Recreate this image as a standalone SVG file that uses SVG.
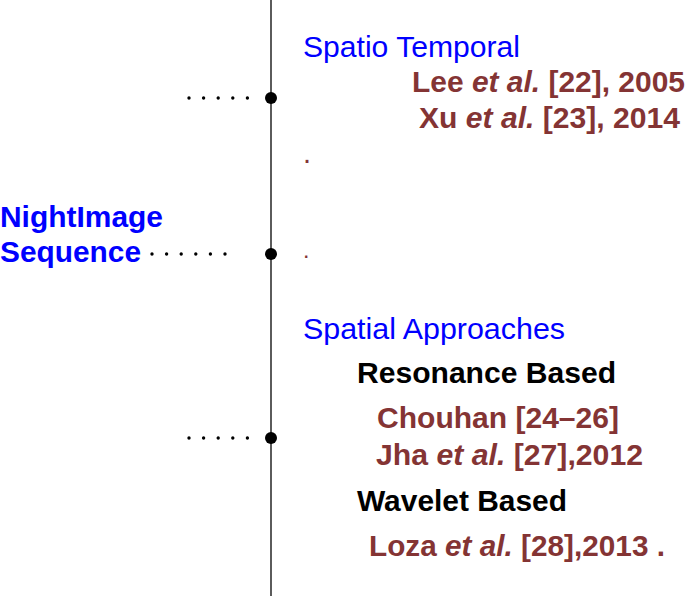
<svg xmlns="http://www.w3.org/2000/svg" width="685" height="596" viewBox="0 0 685 596">
<style>
text{font-family:"Liberation Sans",Arial,sans-serif;}
.cat{fill:#0000ff;font-size:29px;}
.root{fill:#0000ff;font-size:29px;font-weight:bold;}
.ref{fill:#843434;font-size:29px;font-weight:bold;}
.sub{fill:#000;font-size:29px;font-weight:bold;}
.it{font-style:italic;}
.dots{stroke:#000;stroke-width:3.4;stroke-linecap:round;stroke-dasharray:0 14.6;fill:none;}
</style>
<g id="connectors">
<line x1="271" y1="0" x2="271" y2="596" stroke="#333" stroke-width="1.6"/>
<line class="dots" x1="189" y1="98" x2="262" y2="98"/>
<line class="dots" x1="152" y1="254" x2="226" y2="254"/>
<line class="dots" x1="189" y1="438" x2="262" y2="438"/>
</g>
<g id="junction-top"><circle cx="271" cy="98" r="6" fill="#000"/></g>
<g id="junction-mid"><circle cx="271" cy="254" r="6" fill="#000"/></g>
<g id="junction-bottom"><circle cx="271" cy="438" r="6" fill="#000"/></g>
<g id="root">
<text class="root" x="0" y="227" textLength="163" lengthAdjust="spacingAndGlyphs">NightImage</text>
<text class="root" x="0" y="262" textLength="141" lengthAdjust="spacingAndGlyphs">Sequence</text>
</g>
<g id="spatio-temporal">
<text class="cat" x="303" y="57" textLength="217" lengthAdjust="spacingAndGlyphs">Spatio Temporal</text>
<text class="ref" x="412" y="92" textLength="273" lengthAdjust="spacingAndGlyphs">Lee <tspan class="it">et al.</tspan> [22], 2005</text>
<text class="ref" x="419" y="128" textLength="261" lengthAdjust="spacingAndGlyphs">Xu <tspan class="it">et al.</tspan> [23], 2014</text>
<text class="ref" x="303" y="163" style="font-weight:normal">.</text>
</g>
<g id="mid-node">
<text class="ref" x="304" y="258" style="font-size:16px">.</text>
</g>
<g id="spatial">
<text class="cat" x="303" y="339" textLength="262" lengthAdjust="spacingAndGlyphs">Spatial Approaches</text>
<text class="sub" x="357" y="383" textLength="259" lengthAdjust="spacingAndGlyphs">Resonance Based</text>
<text class="ref" x="377" y="428" textLength="242" lengthAdjust="spacingAndGlyphs">Chouhan [24–26]</text>
<text class="ref" x="376" y="465" textLength="267" lengthAdjust="spacingAndGlyphs">Jha <tspan class="it">et al.</tspan> [27],2012</text>
<text class="sub" x="357" y="511" textLength="210" lengthAdjust="spacingAndGlyphs">Wavelet Based</text>
<text class="ref" x="369" y="556" textLength="296" lengthAdjust="spacingAndGlyphs">Loza <tspan class="it">et al.</tspan> [28],2013 .</text>
</g>
</svg>
